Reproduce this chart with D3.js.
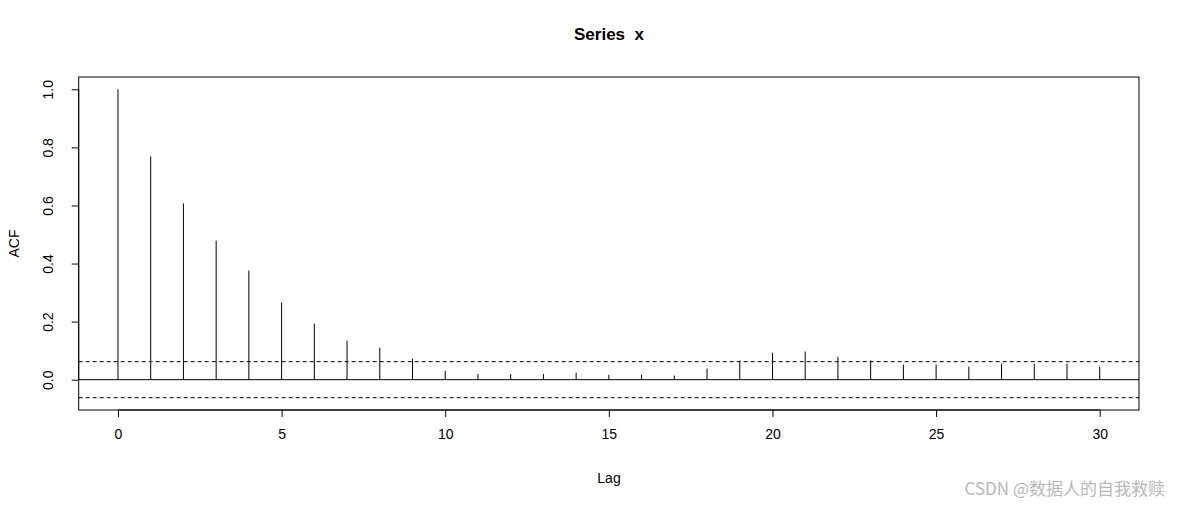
<!DOCTYPE html>
<html><head><meta charset="utf-8">
<script src="https://cdn.jsdelivr.net/npm/d3@7"></script>
<style>body{margin:0;background:#fff}</style>
</head><body>
<script>
// ACF values
var lags = d3.range(0, 31);
var acf = [1.0, 0.769, 0.607, 0.479, 0.376, 0.266, 0.193, 0.134, 0.110, 0.072,
    0.031, 0.020, 0.020, 0.020, 0.024, 0.017, 0.017, 0.014, 0.038, 0.066,
    0.093, 0.097, 0.079, 0.066, 0.052, 0.052, 0.045, 0.055, 0.055, 0.055, 0.045];
var ciBand = 0.062;
var xTicks = [0, 5, 10, 15, 20, 25, 30];
var yTicks = [0.0, 0.2, 0.4, 0.6, 0.8, 1.0];

var W = 1180, H = 508;
var pLeft = 78.7, pRight = 1139, pTop = 77, pBottom = 410;

var svg = d3.select('body').append('svg').attr('width', W).attr('height', H)
    .style('font-family', 'Liberation Sans, Arial, sans-serif');

var x = d3.scaleLinear().domain([-1.2, 31.2]).range([pLeft, pRight]);
var y = d3.scaleLinear().domain([-0.1044, 1.0424]).range([pBottom, pTop]);

// plot box
svg.append('rect').attr('x', pLeft).attr('y', pTop)
    .attr('width', pRight - pLeft).attr('height', pBottom - pTop)
    .attr('fill', 'none').attr('stroke', '#000');

// axes
var xAxis = svg.append('g').attr('transform', 'translate(0,' + pBottom + ')')
    .call(d3.axisBottom(x).tickValues(xTicks).tickSize(7).tickPadding(12).tickFormat(d3.format('d')));
xAxis.select('.domain').attr('d', 'M' + x(0) + ',0H' + x(30));
xAxis.selectAll('text').attr('font-size', 14).attr('fill', '#000');

var yAxis = svg.append('g').attr('transform', 'translate(' + pLeft + ',0)')
    .call(d3.axisLeft(y).tickValues(yTicks).tickSize(7).tickFormat(d3.format('.1f')));
yAxis.select('.domain').attr('d', 'M0,' + y(0) + 'V' + y(1));
yAxis.selectAll('text').attr('font-size', 14).attr('fill', '#000')
    .attr('text-anchor', 'middle').attr('x', 0).attr('y', 0).attr('dy', 0)
    .attr('transform', 'translate(-26,0) rotate(-90)');

// zero line and confidence bands
svg.append('line').attr('x1', pLeft).attr('x2', pRight).attr('y1', y(0)).attr('y2', y(0)).attr('stroke', '#000');
[ciBand, -ciBand].forEach(function (c) {
    svg.append('line').attr('x1', pLeft).attr('x2', pRight).attr('y1', y(c)).attr('y2', y(c))
        .attr('stroke', '#000').attr('stroke-dasharray', '4,3');
});

// spikes
svg.selectAll('.spike').data(lags).enter().append('line')
    .attr('class', 'spike')
    .attr('x1', function (d) { return x(d); }).attr('x2', function (d) { return x(d); })
    .attr('y1', y(0)).attr('y2', function (d) { return y(acf[d]); })
    .attr('stroke', '#000');

// labels
svg.append('text').attr('x', 609).attr('y', 40).attr('text-anchor', 'middle')
    .attr('font-size', 17).attr('font-weight', 'bold').attr('xml:space', 'preserve').text('Series  x');
svg.append('text').attr('x', 609).attr('y', 483).attr('text-anchor', 'middle')
    .attr('font-size', 14).text('Lag');
svg.append('text').attr('transform', 'translate(19,' + (pTop + pBottom) / 2 + ') rotate(-90)')
    .attr('text-anchor', 'middle').attr('font-size', 14).text('ACF');
svg.append('text').attr('x', 1165).attr('y', 495).attr('text-anchor', 'end')
    .attr('font-size', 17).attr('fill', '#b8b8b8')
    .style('font-family', 'Noto Sans CJK SC, sans-serif').text('CSDN @数据人的自我救赎');
</script>
</body></html>
